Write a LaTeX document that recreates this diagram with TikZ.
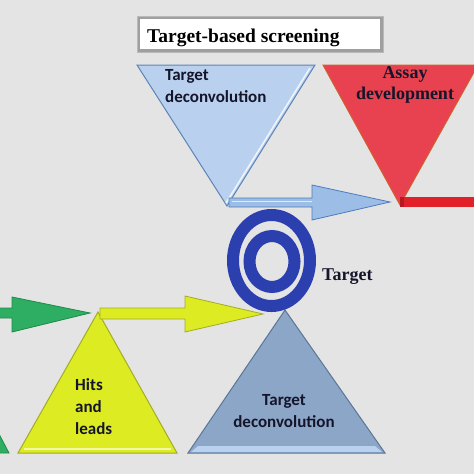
\documentclass[tikz,border=0pt]{standalone}
\usepackage{fontspec}
\setmainfont{Liberation Serif}
\newfontfamily\calib{Carlito}
\usetikzlibrary{calc}
\definecolor{bgc}{HTML}{E4E4E4}
\definecolor{lbfill}{HTML}{B9D1EE}
\definecolor{lbedge}{HTML}{5E84B5}
\definecolor{redfill}{HTML}{E8414F}
\definecolor{rededge}{HTML}{D0602E}
\definecolor{redbar}{HTML}{E2202A}
\definecolor{arrfill}{HTML}{9BBDE6}
\definecolor{arredge}{HTML}{4F7CC0}
\definecolor{ringc}{HTML}{2B40AE}
\definecolor{yelfill}{HTML}{DDEB22}
\definecolor{yeledge}{HTML}{A3AC26}
\definecolor{grnfill}{HTML}{2EAE62}
\definecolor{grnedge}{HTML}{1E8A4A}
\definecolor{bgfill}{HTML}{8CA6C8}
\definecolor{bgedge}{HTML}{5A7596}
\definecolor{txt}{HTML}{15152A}
\tikzset{
  tri/.style={line width=1pt, line join=miter},
  sanslab/.style={font=\calib\bfseries\fontsize{17}{22}\selectfont, text=txt, inner sep=0pt},
  seriflab/.style={font=\bfseries\fontsize{18}{20}\selectfont, text=txt, inner sep=0pt},
  ring/.style={draw=ringc, line width=12pt}
}
\begin{document}
\begin{tikzpicture}[x=1pt,y=-1pt]
\fill[bgc] (0,0) rectangle (474,474);
\useasboundingbox (0,0) rectangle (474,474);
% key points
\coordinate (tdApex) at (227,206);
\coordinate (adApex) at (400,205);
\coordinate (blTip) at (390,202);
\coordinate (hlApex) at (98,312);
\coordinate (ylTip) at (263,314);
\coordinate (grTip) at (90,313);
\coordinate (grStart) at (0,313);
\coordinate (bdApex) at (285,310);
% title box
\fill[gray!75] (137,16) rectangle (383,52);
\fill[white] (140,19) rectangle (380,49);
\draw[gray!55, line width=0.6pt] (137,16) rectangle (383,52);
\node[font=\bfseries\fontsize{19.5}{22}\selectfont, anchor=base west, inner sep=0pt] (title) at (147,42) {Target-based screening};
% top left triangle
\filldraw[tri, fill=lbfill, draw=lbedge] (137,65) -- (315,65) -- (tdApex) -- cycle;
\draw[white!80!lbfill, line width=1.5pt] (310,68) -- (226,203);
\node[sanslab, anchor=base west] (td1) at (165,80) {Target};
\node[sanslab, anchor=base west] (td2) at (165,102) {deconvolution};
% red triangle
\filldraw[tri, fill=redfill, draw=rededge] (323,65) -- (478,65) -- (adApex) -- cycle;
\fill[redbar] (400,197) rectangle (476,207);
\fill[redbar!80!black] (400,197) rectangle (404,207);
\node[seriflab, anchor=base] (ad1) at (405,78) {Assay};
\node[seriflab, anchor=base] (ad2) at (405,99) {development};
% blue arrow
\filldraw[fill=arrfill, draw=arredge, line width=0.8pt, line join=miter]
  ($(tdApex)+(2,-8)$) -- (312,198) -- (312,185) -- (blTip) -- (312,220) -- (312,207) -- ($(tdApex)+(2,1)$) -- cycle;
\draw[white!70!arrfill, line width=1pt] (232,201) -- (312,201);
% rings
\draw[ring] (271.5,260.5) ellipse [x radius=38.5, y radius=45.5];
\draw[ring] (272,261.5) ellipse [x radius=22.5, y radius=25.5];
\node[font=\bfseries\fontsize{18}{20}\selectfont, anchor=base west, inner sep=0pt, text=txt] (tg) at (322,280) {Target};
% green arrow
\filldraw[fill=grnfill, draw=grnedge, line width=0.8pt, line join=miter]
  ($(grStart)+(-2,-5)$) -- (12,308) -- (12,297) -- (grTip) -- (12,332) -- (12,318) -- ($(grStart)+(-2,5)$) -- cycle;
% small green triangle bottom-left
\filldraw[fill=grnfill, draw=grnedge, line width=0.8pt] (-2,432) -- (9,453) -- (-2,453) -- cycle;
% yellow triangle
\filldraw[tri, fill=yelfill, draw=yeledge] (hlApex) -- (177,453) -- (18,453) -- cycle;
\draw[white!60!yelfill, line width=1.5pt] (24,449) -- (171,449);
\node[sanslab, anchor=base west] (hl1) at (75,390) {Hits};
\node[sanslab, anchor=base west] (hl2) at (75,412) {and};
\node[sanslab, anchor=base west] (hl3) at (75,434) {leads};
% yellow arrow
\filldraw[fill=yelfill, draw=yeledge, line width=0.8pt, line join=miter]
  ($(hlApex)+(2,-4)$) -- (185,308) -- (185,296) -- (ylTip) -- (185,332) -- (185,319) -- ($(hlApex)+(2,7)$) -- cycle;
% bottom blue-grey triangle
\filldraw[tri, fill=bgfill, draw=bgedge] (bdApex) -- (385,453) -- (188,453) -- cycle;
\fill[lbfill] (198,446) -- (375,446) -- (382,452) -- (191,452) -- cycle;
\node[sanslab, anchor=base] (bd1) at (284,405) {Target};
\node[sanslab, anchor=base] (bd2) at (284,427) {deconvolution};
\end{tikzpicture}
\end{document}
